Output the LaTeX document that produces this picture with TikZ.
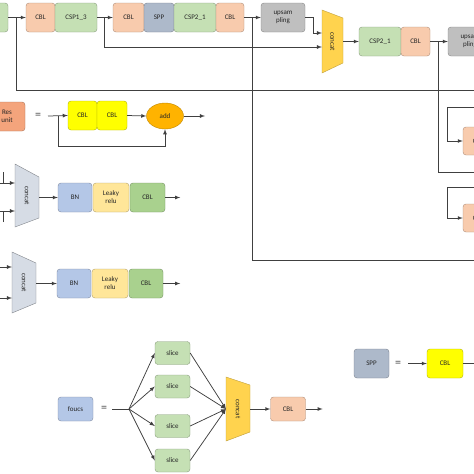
\documentclass[tikz,border=0pt]{standalone}
\usepackage{fontspec}
\setmainfont{Carlito}
\usetikzlibrary{arrows,shapes.geometric}

\definecolor{cblor}{HTML}{F8CBAD}
\definecolor{cspgr}{HTML}{C5E0B4}
\definecolor{sppbl}{HTML}{ADB9CA}
\definecolor{upgr}{HTML}{BFBFBF}
\definecolor{ccyl}{HTML}{FFD34E}
\definecolor{resor}{HTML}{F4A47C}
\definecolor{yel}{HTML}{FFFF00}
\definecolor{addor}{HTML}{FFB300}
\definecolor{ccgr}{HTML}{D6DCE5}
\definecolor{bnbl}{HTML}{B4C7E7}
\definecolor{lkyl}{HTML}{FFE699}
\definecolor{cbgr}{HTML}{A9D18E}
\definecolor{ln}{HTML}{404040}

\tikzset{
  blk/.style={draw=#1!70!black, fill=#1, rounded corners=3pt, inner sep=0pt,
    align=center, text=black!85, font=\fontsize{7}{8}\selectfont},
  arr/.style={->, >=latex, draw=ln, line width=0.75pt},
  ln/.style={draw=ln, line width=0.75pt},
  eq/.style={font=\fontsize{12}{12}\selectfont, text=black!70},
  cclab/.style={rotate=-90, font=\fontsize{7}{8}\selectfont, text=black!85}
}

\begin{document}
\begin{tikzpicture}[x=1pt,y=-1pt]
	\useasboundingbox (0,0) rectangle (474,474);
	\clip (0,0) rectangle (474,474);
	
	%top row
	\node[blk=cspgr, minimum width=38, minimum height=29] (csp0) at (-11,17.5) {};
	\node[blk=cblor, minimum width=29, minimum height=29] (cbla) at (40.5,17.5) {CBL};
	\node[blk=cspgr, minimum width=42, minimum height=29] (csp13) at (76,17.5) {CSP1\_3};
	\node[blk=cblor, minimum width=31, minimum height=29] (cblb) at (128.5,17.5) {CBL};
	\node[blk=sppbl, minimum width=30, minimum height=29] (sppa) at (159,17.5) {SPP};
	\node[blk=cspgr, minimum width=42, minimum height=29] (csp21a) at (195,17.5) {CSP2\_1};
	\node[blk=cblor, minimum width=28, minimum height=29] (cblc) at (230,17.5) {CBL};
	\node[blk=upgr, minimum width=44, minimum height=29] (upa) at (283,17.5) {upsam\\pling};
	
	\draw[draw=ccyl!75!black, fill=ccyl] (322,10) -- (343,18) -- (343,63) -- (322,73) -- cycle;
	\node[cclab] (cca) at (332.5,41.5) {concat};
	\coordinate (ccain1) at (322,33);
	\coordinate (ccain2) at (322,47);
	\coordinate (ccaout) at (343,41.5);
	
	\node[blk=cspgr, minimum width=42, minimum height=29] (csp21b) at (380,41.5) {CSP2\_1};
	\node[blk=cblor, minimum width=29, minimum height=29] (cbld) at (415.5,41.5) {CBL};
	\node[blk=upgr, minimum width=44, minimum height=29] (upb) at (470,41.5) {upsam\\pling};
	
	\draw[arr] (csp0.east) -- (cbla.west);
	\draw[arr] (csp13.east) -- (cblb.west);
	\draw[arr] (cblc.east) -- (upa.west);
	\draw[arr] (upa.east) -- ++(8,0) |- (ccain1);
	\draw[arr] (ccaout) -- (csp21b.west);
	\draw[arr] (cbld.east) -- (upb.west);
	
	\coordinate (ja) at (16,17.5);
	\coordinate (jb) at (104,17.5);
	\coordinate (jc) at (252,17.5);
	\coordinate (jd) at (438,41.5);
	\coordinate (ra) at (480,90);
	\coordinate (rb) at (480,260);
	\coordinate (rc) at (480,172);
	\draw[ln] (ja) |- (ra);
	\draw[arr] (jb) |- (ccain2);
	\draw[ln] (jc) |- (rb);
	\draw[ln] (jd) |- (rc);
	
	%right side loops
	\node[blk=cblor, minimum width=30, minimum height=28] (cble) at (478,141) {CBL};
	\node[blk=cblor, minimum width=30, minimum height=28] (cblf) at (478,218) {CBL};
	\coordinate (rd) at (480,107);
	\coordinate (re) at (480,187);
	\draw[arr] (rd) -- (447,107) |- (cble.west);
	\draw[arr] (re) -- (447,187) |- (cblf.west);
	
	%res unit
	\node[blk=resor, minimum width=36, minimum height=29] (res) at (7,116.5) {Res\\unit};
	\node[eq] (eqa) at (38,116) {=};
	\node[blk=yel, minimum width=29, minimum height=29] (ycbla) at (82.5,115.5) {CBL};
	\node[blk=yel, minimum width=30, minimum height=29] (ycblb) at (112,115.5) {CBL};
	\node[ellipse, draw=addor!75!black, fill=addor, minimum width=37, minimum height=26, inner sep=0pt,
	  text=black!85, font=\fontsize{7}{8}\selectfont] (add) at (165,116) {add};
	\coordinate (resin) at (48,116);
	\coordinate (resout) at (205,116);
	\draw[arr] (resin) -- (ycbla.west);
	\draw[arr] (ycblb.east) -- (add.west);
	\draw[arr] (add.east) -- (resout);
	\draw[arr] (58,116) -- (58,146) -| (add.south);
	
	%concat block 1
	\draw[draw=ccgr!60!black, fill=ccgr] (15,164) -- (39,177) -- (39,218) -- (15,227) -- cycle;
	\node[cclab] (ccb) at (27,195.5) {concat};
	\node[blk=bnbl, minimum width=34, minimum height=29] (bna) at (75,197.5) {BN};
	\node[blk=lkyl, minimum width=36, minimum height=29] (lka) at (111,197.5) {Leaky\\relu};
	\node[blk=cbgr, minimum width=35, minimum height=29] (cbga) at (147.5,197.5) {CBL};
	\draw[ln] (3,172) -- (3,183);
	\draw[arr] (0,183) -- (15,183);
	\draw[ln] (3,222) -- (3,211);
	\draw[arr] (0,211) -- (15,211);
	\draw[arr] (39,197.5) -- (bna.west);
	\draw[arr] (cbga.east) -- ++(15,0);
	
	%concat block 2
	\draw[draw=ccgr!60!black, fill=ccgr] (12,252) -- (36,263) -- (36,303) -- (12,313) -- cycle;
	\node[cclab] (ccc) at (24,282.5) {concat};
	\node[blk=bnbl, minimum width=34, minimum height=29] (bnb) at (74,283.5) {BN};
	\node[blk=lkyl, minimum width=36, minimum height=29] (lkb) at (110,283.5) {Leaky\\relu};
	\node[blk=cbgr, minimum width=34, minimum height=29] (cbgb) at (146,283.5) {CBL};
	\draw[arr] (0,267) -- (12,267);
	\draw[arr] (0,298) -- (12,298);
	\draw[arr] (36,283.5) -- (bnb.west);
	\draw[arr] (cbgb.east) -- ++(17,0);
	
	%foucs
	\node[blk=bnbl, minimum width=35, minimum height=24] (foucs) at (75.5,409) {foucs};
	\node[eq] (eqb) at (104,409) {=};
	\coordinate (fin) at (112,409);
	\coordinate (fan) at (129,409);
	\draw[ln] (fin) -- (fan);
	\foreach \n/\y in {1/353,2/386.5,3/426,4/460.5}{
		\node[blk=cspgr, minimum width=35, minimum height=23] (sl\n) at (172.5,\y) {slice};
		\draw[arr] (fan) -- (sl\n.west);
		\draw[arr] (sl\n.east) -- (226,409);
	}
	\draw[draw=ccyl!75!black, fill=ccyl] (226,377) -- (250,385) -- (250,432) -- (226,441) -- cycle;
	\node[cclab] (ccd) at (238,409) {concat};
	\node[blk=cblor, minimum width=35, minimum height=24] (cblg) at (288,409) {CBL};
	\draw[arr] (250,409) -- (cblg.west);
	\draw[arr] (cblg.east) -- ++(17,0);
	
	%spp
	\node[blk=sppbl, minimum width=35, minimum height=29] (sppb) at (371.5,363.5) {SPP};
	\node[eq] (eqc) at (398,364) {=};
	\node[blk=yel, minimum width=36, minimum height=29] (ycblc) at (445,363.5) {CBL};
	\coordinate (sin) at (408,363.5);
	\draw[arr] (sin) -- (ycblc.west);
	\draw[ln] (ycblc.east) -- ++(15,0);
	
\end{tikzpicture}
\end{document}
